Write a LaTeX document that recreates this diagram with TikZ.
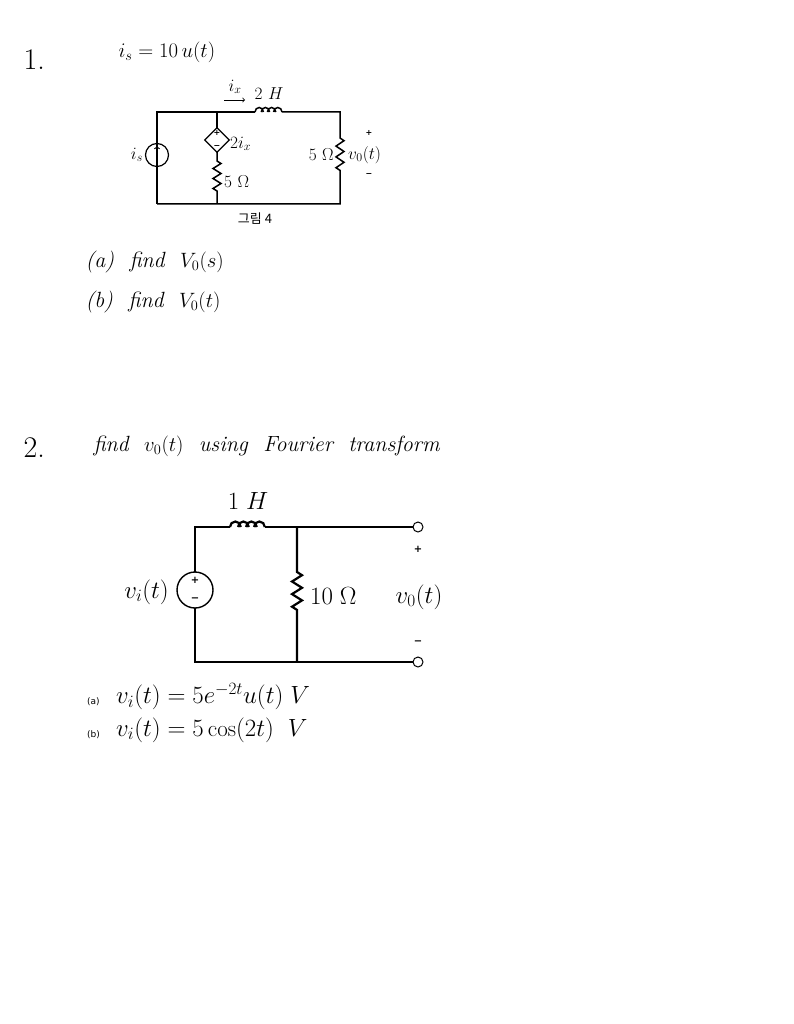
\documentclass[tikz,border=0pt]{standalone}
\usetikzlibrary{shapes.geometric}
\usepackage{fontspec}
\newfontfamily\cjk{Noto Sans CJK KR}
\newfontfamily\dv{DejaVu Sans}
\begin{document}
\begin{tikzpicture}[x=1pt,y=-1pt,
 w/.style={line width=1.5pt},
 w2/.style={line width=2.2pt},
 hand/.style={anchor=west,font=\itshape\fontsize{22}{26}\selectfont},
 lbl/.style={inner sep=1pt},
 s1/.style={lbl,font=\fontsize{18}{22}\selectfont},
 s2/.style={lbl,font=\fontsize{23}{27}\selectfont}]
\useasboundingbox (0,0) rectangle (793,1024);
% ---------- problem 1 ----------
\node[hand,font=\fontsize{30}{34}\selectfont] (n1) at (20,60) {1.};
\node[hand] (is) at (115,52) {$i_s = 10\,u(t)$};
\coordinate (a) at (157,112); \coordinate (b) at (217,112);
\coordinate (c) at (340,112); \coordinate (d) at (340,204);
\coordinate (e) at (217,204); \coordinate (f) at (157,204);
\draw[w] (f) -- (157,144) (157,166) -- (a) -- (b) -- (255,112);
\draw[w] (255,112) \foreach \k in {0,1,2}{ arc (180:360:4.2 and 4.5) ++(-2.2,0)} arc (180:360:4.2 and 4.5);
\draw[w] (282,112) -- (c) -- (340,138) -- ++(4,2.7) -- ++(-8,5.4) -- ++(8,5.4) -- ++(-8,5.4) -- ++(8,5.4) -- ++(-8,5.4) -- ++(4,2.7) -- (d) -- (e) -- (f);
\node[draw,line width=1.2pt,circle,minimum size=23pt,inner sep=0] (src1) at (157,155) {};
\draw[line width=1.1pt,->] (157,164) -- (157,146);
\draw[w] (b) -- (217,128);
\node[draw,line width=1.2pt,diamond,minimum size=25pt,inner sep=0] (dep) at (217,140) {};
\node[font=\dv\footnotesize\bfseries,lbl] at (217,133) {+};
\node[font=\dv\footnotesize\bfseries,lbl] at (217,147) {−};
\draw[w] (217,152) -- (217,161) -- ++(4,2.5) -- ++(-8,5) -- ++(8,5) -- ++(-8,5) -- ++(8,5) -- ++(-8,5) -- ++(4,2.5) -- (e);
\node[s1,anchor=east] at (144,155) {$i_s$};
\node[s1,anchor=west] at (229,144) {$2i_x$};
\node[s1,anchor=west] at (223,182) {$5\ \Omega$};
\node[s1,anchor=east] at (335,155) {$5\ \Omega$};
\node[s1,anchor=west] at (347,155) {$v_0(t)$};
\node[lbl,font=\dv\footnotesize\bfseries] at (369,133) {+};
\node[lbl,font=\dv\footnotesize\bfseries] at (369,175) {−};
\node[s1] at (269,94) {$2\ H$};
\node[s1] at (235,87) {$i_x$};
\draw[line width=0.8pt,->] (224,100) -- (245,100);
\node[lbl,font=\cjk\fontsize{13}{15}\selectfont] at (255,219) {그림 4};
\node[hand] (qa) at (82,262) {(a)\ \ find\ \ $V_0(s)$};
\node[hand] (qb) at (82,302) {(b)\ \ find\ \ $V_0(t)$};
% ---------- problem 2 ----------
\node[hand,font=\fontsize{30}{34}\selectfont] (n2) at (20,448) {2.};
\node[hand] (q2) at (90,446) {find\ \ $v_0(t)$\ \ using\ \ Fourier\ \ transform};
\coordinate (p) at (195,527); \coordinate (q) at (297,527);
\coordinate (r) at (297,662); \coordinate (s) at (195,662);
\draw[w2] (195,572) -- (p) -- (230,527);
\draw[w2] (230,527) \foreach \k in {0,1,2}{ arc (180:360:5.4 and 5.5) ++(-2.8,0)} arc (180:360:5.4 and 5.5);
\draw[w2] (265,527) -- (q) -- (413,527);
\draw[w2] (q) -- (297,572) -- ++(5,3.2) -- ++(-10,6.3) -- ++(10,6.3) -- ++(-10,6.3) -- ++(10,6.3) -- ++(-10,6.3) -- ++(5,3.2) -- (r);
\draw[w2] (195,608) -- (s) -- (r) -- (413,662);
\node[draw,line width=1.4pt,circle,minimum size=36pt,inner sep=0] (src2) at (195,590) {};
\node[lbl,font=\dv\bfseries] at (195,580) {+};
\node[lbl,font=\dv\bfseries] at (195,600) {−};
\node[draw,line width=1pt,circle,minimum size=10pt,inner sep=0,fill=white] (t1) at (418,527) {};
\node[draw,line width=1pt,circle,minimum size=10pt,inner sep=0,fill=white] (t2) at (418,662) {};
\node[s2] at (248,501) {$1\ H$};
\node[s2,anchor=east] at (170,592) {$v_i(t)$};
\node[s2,anchor=west] at (309,596) {$10\ \Omega$};
\node[s2] at (419,597) {$v_0(t)$};
\node[lbl,font=\dv\bfseries] at (418,549) {+};
\node[lbl,font=\dv\bfseries] at (418,643) {−};
\node[lbl,anchor=west,font=\dv\small] at (86,702) {(a)};
\node[s2,anchor=west] at (115,697) {$v_i(t)=5e^{-2t}u(t)\ V$};
\node[lbl,anchor=west,font=\dv\small] at (86,735) {(b)};
\node[s2,anchor=west] at (115,730) {$v_i(t)=5\cos(2t)\ \ V$};
\end{tikzpicture}
\end{document}
